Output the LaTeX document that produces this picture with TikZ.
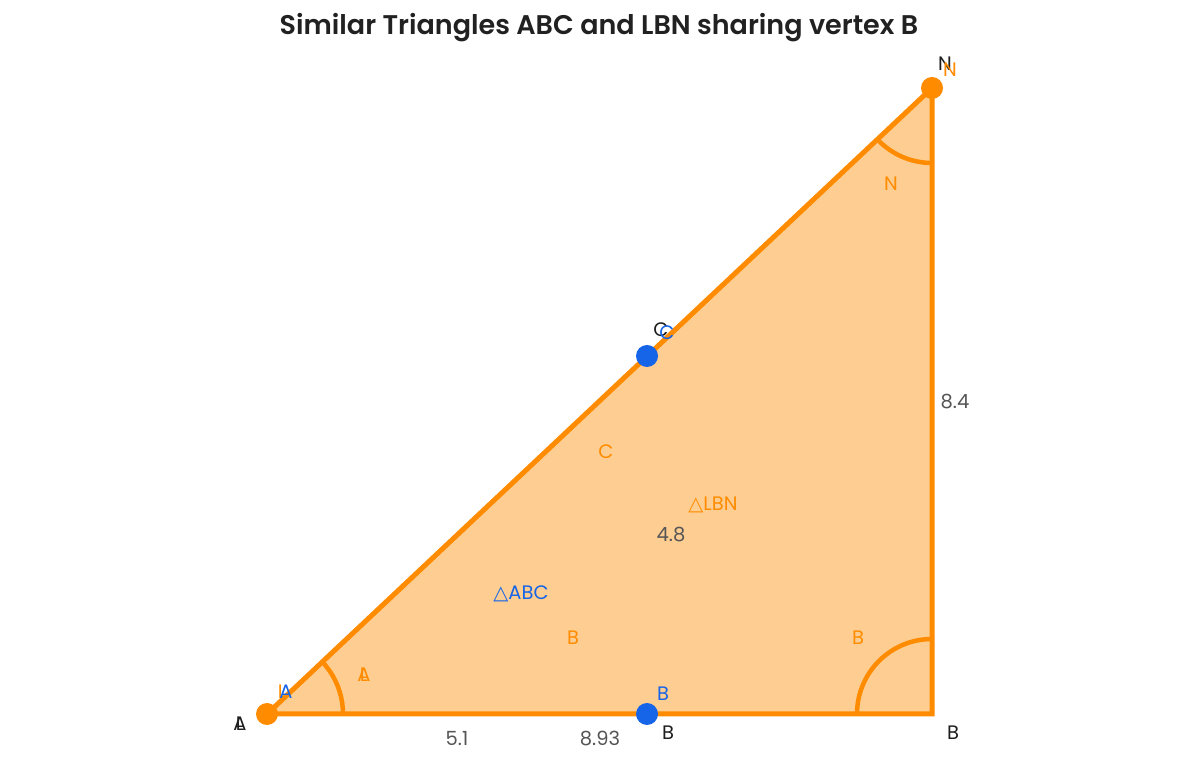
\documentclass[tikz,border=0pt]{standalone}
\usepackage{fontspec}
\usetikzlibrary{calc}
\setmainfont{Poppins}
\newfontfamily\titlefont{Poppins SemiBold}
\newfontfamily\symfont{DejaVu Sans}
\definecolor{lineor}{RGB}{255,140,0}
\definecolor{fillor}{RGB}{254,205,145}
\definecolor{ptblue}{RGB}{22,100,232}
\definecolor{lblgray}{RGB}{85,85,85}
\definecolor{lblblack}{RGB}{30,30,30}
\definecolor{titlecol}{RGB}{33,33,33}
\tikzset{
  edge/.style={draw=lineor,line width=5pt,line join=miter},
  anglearc/.style={draw=lineor,line width=4.5pt},
  dotor/.style={circle,fill=lineor,minimum size=22pt,inner sep=0pt},
  dotbl/.style={circle,fill=ptblue,minimum size=22pt,inner sep=0pt},
  lbl/.style={font=\fontsize{19.5}{21}\selectfont,inner sep=0pt},
  orlbl/.style={lbl,text=lineor},
  bllbl/.style={lbl,text=ptblue},
  bklbl/.style={lbl,text=lblblack},
  grlbl/.style={lbl,text=lblgray},
}
\begin{document}
\begin{tikzpicture}[x=1pt,y=1pt]
\path[use as bounding box,fill=white] (0,0) rectangle (1200,763);
\coordinate (A) at (267,49);
\coordinate (B) at (932,49);
\coordinate (N) at (932,675);
\coordinate (C) at (647,407);
\coordinate (Bs) at (647,49);
% triangle
\path[fill=fillor] (A) -- (B) -- (N) -- cycle;
% angle arcs
\draw[anglearc] ($(A)+(76,0)$) arc[start angle=0,end angle=43.27,radius=76];
\draw[anglearc] ($(N)+(0,-75)$) arc[start angle=270,end angle=223.27,radius=75];
\draw[anglearc] ($(B)+(-75,0)$) arc[start angle=180,end angle=90,radius=75];
\draw[edge] (A) -- (B) -- (N) -- cycle;
% points
\node[dotor] (pA) at (A) {};
\node[dotor] (pN) at (N) {};
\node[dotbl] (pC) at (C) {};
\node[dotbl] (pB) at (Bs) {};
% title
\node[font=\fontsize{27}{30}\titlefont,text=titlecol] (title) at (599,735) {Similar Triangles ABC and LBN sharing vertex B};
% point labels
\node[bklbl] (lA1) at (240,39) {A};
\node[bklbl] (lL1) at (240,39) {L};
\node[orlbl] (lL2) at (282,71) {L};
\node[bllbl] (lA2) at (286,71) {A};
\node[bklbl] (lN1) at (945,699) {N};
\node[orlbl] (lN2) at (950,693) {N};
\node[bklbl] (lC1) at (661,433) {C};
\node[bllbl] (lC2) at (667,430) {C};
\node[bllbl] (lB1) at (663,69) {B};
\node[bklbl] (lB2) at (668,30) {B};
\node[bklbl] (lB3) at (953,30) {B};
% angle labels
\node[orlbl] (aA) at (364,88) {A};
\node[orlbl] (aL) at (364,88) {L};
\node[orlbl] (aN) at (891,579) {N};
\node[orlbl] (aC) at (606,311) {C};
\node[orlbl] (aB1) at (573,125) {B};
\node[orlbl] (aB2) at (858,125) {B};
% triangle names
\node[orlbl] (tLBN) at (713,258) {{\symfont △}LBN};
\node[bllbl] (tABC) at (521,169) {{\symfont △}ABC};
% lengths
\node[grlbl] (d48) at (671,228) {4.8};
\node[grlbl] (d84) at (955,361) {8.4};
\node[grlbl] (d51) at (457,24) {5.1};
\node[grlbl] (d893) at (600,24) {8.93};
\end{tikzpicture}
\end{document}
